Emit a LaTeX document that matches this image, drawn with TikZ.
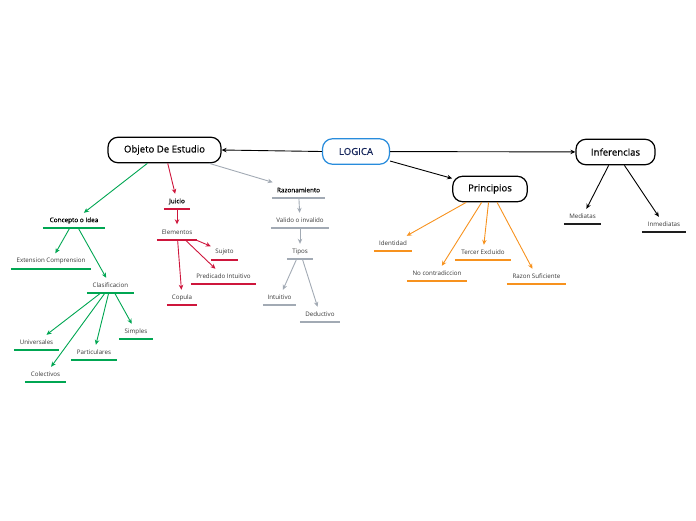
\documentclass[tikz,border=0pt]{standalone}
\usepackage{fontspec}
\setmainfont{Open Sans}
\newfontfamily\mainnodefont[FakeBold=0.6]{Open Sans}
\usetikzlibrary{arrows.meta}
\definecolor{cgreen}{RGB}{0,166,82}
\definecolor{cred}{RGB}{206,22,60}
\definecolor{cgray}{RGB}{162,170,180}
\definecolor{corange}{RGB}{247,146,30}
\definecolor{cblue}{RGB}{40,140,220}
\definecolor{cnavy}{RGB}{20,36,90}
\definecolor{ctxt}{RGB}{55,55,55}
\definecolor{cdark}{RGB}{30,30,30}
\tikzset{
  mainbox/.style={draw=black, line width=1.2pt, rounded corners=10pt, fill=white,
    minimum height=25.5pt, inner sep=0pt, font=\mainnodefont\fontsize{9.6}{11}\selectfont, text=black},
  leaf/.style={inner sep=0pt, minimum height=15pt, text=ctxt,
    font=\fontsize{6.2}{7}\selectfont,
    append after command={\pgfextra{\draw[draw=#1, line width=1.8pt]
      (\tikzlastnode.south west) -- (\tikzlastnode.south east);}}},
  bleaf/.style={leaf=#1, font=\mainnodefont\fontsize{6.4}{7}\selectfont, text=black},
  conn/.style={draw=#1, line width=0.9pt, -{Stealth[length=5pt,width=4.5pt]}}
}
\begin{document}
\begin{tikzpicture}[x=1pt,y=-1pt]
\useasboundingbox (0,0) rectangle (696,520);
% main nodes
\node[mainbox, draw=cblue, text=cnavy, minimum width=67pt] (logica) at (356,151.5) {LOGICA};
\node[mainbox, minimum width=113pt] (objeto) at (164.5,150) {Objeto De Estudio};
\node[mainbox, minimum width=79pt] (infer) at (615.5,152) {Inferencias};
\node[mainbox, minimum width=74.5pt] (princ) at (490,189) {Principios};
% green branch
\node[bleaf=cgreen, minimum width=62pt] (concepto) at (74,220.5) {Concepto o Idea};
\node[leaf=cgreen, minimum width=80pt] (extension) at (51,261) {Extension Comprension};
\node[leaf=cgreen, minimum width=47pt] (clasif) at (110.5,285.5) {Clasificacion};
\node[leaf=cgreen, minimum width=45pt] (univ) at (36.5,342.5) {Universales};
\node[leaf=cgreen, minimum width=41pt] (colect) at (45.5,374.5) {Colectivos};
\node[leaf=cgreen, minimum width=46pt] (partic) at (94,352.5) {Particulares};
\node[leaf=cgreen, minimum width=34pt] (simples) at (136,331.5) {Simples};
% red branch
\node[bleaf=cred, minimum width=26pt] (juicio) at (177,201.5) {Juicio};
\node[leaf=cred, minimum width=40pt] (elementos) at (177,232) {Elementos};
\node[leaf=cred, minimum width=27pt] (sujeto) at (224.5,252) {Sujeto};
\node[leaf=cred, minimum width=65pt] (predicado) at (223.5,276.5) {Predicado Intuitivo};
\node[leaf=cred, minimum width=30pt] (copula) at (182,297.5) {Copula};
% gray branch
\node[bleaf=cgray, minimum width=53pt] (razon) at (298.5,190) {Razonamiento};
\node[leaf=cgray, minimum width=58pt] (valido) at (300,220.5) {Valido o invalido};
\node[leaf=cgray, minimum width=26pt] (tipos) at (300,251.5) {Tipos};
\node[leaf=cgray, minimum width=33pt] (intuitivo) at (279.5,297.5) {Intuitivo};
\node[leaf=cgray, minimum width=40pt] (deductivo) at (320,314.5) {Deductivo};
% orange branch
\node[leaf=corange, minimum width=38pt] (identidad) at (393,243.5) {Identidad};
\node[leaf=corange, minimum width=60pt] (nocontra) at (437,273.5) {No contradiccion};
\node[leaf=corange, minimum width=56pt] (tercer) at (483,252.5) {Tercer Excluido};
\node[leaf=corange, minimum width=59pt] (razsuf) at (536.5,276.5) {Razon Suficiente};
% black branch
\node[leaf=cdark, minimum width=37pt] (mediatas) at (582.5,216.5) {Mediatas};
\node[leaf=cdark, minimum width=44pt] (inmediatas) at (664,224.5) {Inmediatas};
% connectors
\draw[conn=black] (logica.west) -- (objeto.east);
\draw[conn=black] (logica) -- (infer);
\draw[conn=black] (logica) -- (princ);
\draw[conn=cgreen] (objeto) -- (concepto);
\draw[conn=cgreen] (concepto) -- (extension);
\draw[conn=cgreen] (concepto) -- (clasif);
\draw[conn=cgreen] (clasif) -- (univ);
\draw[conn=cgreen] (clasif) -- (colect);
\draw[conn=cgreen] (clasif) -- (partic);
\draw[conn=cgreen] (clasif) -- (simples);
\draw[conn=cred] (objeto) -- (juicio);
\draw[conn=cred] (juicio) -- (elementos);
\draw[conn=cred] (elementos) -- (sujeto);
\draw[conn=cred] (elementos) -- (predicado);
\draw[conn=cred] (elementos) -- (copula);
\draw[conn=cgray] (objeto) -- (razon);
\draw[conn=cgray] (razon) -- (valido);
\draw[conn=cgray] (valido) -- (tipos);
\draw[conn=cgray] (tipos) -- (intuitivo);
\draw[conn=cgray] (tipos) -- (deductivo);
\draw[conn=corange] (princ) -- (identidad);
\draw[conn=corange] (princ) -- (nocontra);
\draw[conn=corange] (princ) -- (tercer);
\draw[conn=corange] (princ) -- (razsuf);
\draw[conn=black] (infer) -- (mediatas);
\draw[conn=black] (infer) -- (inmediatas);
\end{tikzpicture}
\end{document}
